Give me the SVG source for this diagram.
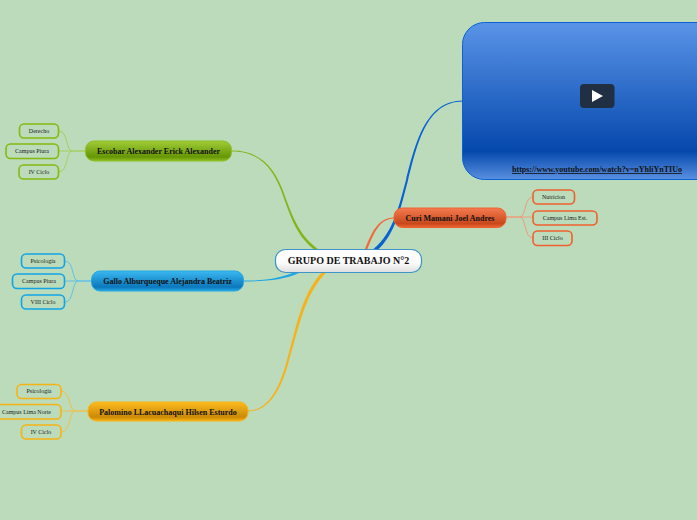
<svg xmlns="http://www.w3.org/2000/svg" width="697" height="520" viewBox="0 0 697 520">
<style>
text{font-family:"Liberation Serif","Times New Roman",serif;text-anchor:middle;fill:#111}
.b{font-size:8px;font-weight:bold}
.s{font-size:6px;fill:#222}
.l{fill:#bbdbbb;stroke-width:1.6}
.c{fill:none;stroke-width:1.5}
.t{fill:none;stroke-width:1}
</style>
<defs>
<linearGradient id="gg" x1="0" y1="0" x2="0" y2="1"><stop offset="0" stop-color="#a0cc36"/><stop offset=".8" stop-color="#669606"/><stop offset="1" stop-color="#90c020"/></linearGradient>
<linearGradient id="gb" x1="0" y1="0" x2="0" y2="1"><stop offset="0" stop-color="#3ab8f0"/><stop offset=".8" stop-color="#0c78bc"/><stop offset="1" stop-color="#26a8e2"/></linearGradient>
<linearGradient id="gy" x1="0" y1="0" x2="0" y2="1"><stop offset="0" stop-color="#fcba20"/><stop offset=".8" stop-color="#cc8a06"/><stop offset="1" stop-color="#f8b414"/></linearGradient>
<linearGradient id="gr" x1="0" y1="0" x2="0" y2="1"><stop offset="0" stop-color="#f47c50"/><stop offset=".8" stop-color="#c8481c"/><stop offset="1" stop-color="#ee6636"/></linearGradient>
<linearGradient id="gw" x1="0" y1="0" x2="0" y2="1"><stop offset="0" stop-color="#ffffff"/><stop offset=".6" stop-color="#fafafa"/><stop offset="1" stop-color="#dedede"/></linearGradient>
<linearGradient id="gv" x1="0" y1="0" x2="0" y2="1"><stop offset="0" stop-color="#5a94e8"/><stop offset=".82" stop-color="#0548ac"/><stop offset="1" stop-color="#5a90e0"/></linearGradient>
</defs>
<rect width="697" height="520" fill="#bbdbbb"/>
<g id="connectors">
<path fill="#84b41c" d="M232 150.600C262 150.600 274.800 170 282.800 190C292.800 218 299.500 235.500 318.500 249.500L316 251C297 237 291 218.500 281.200 190.500C273 171 262 151.400 232 151.400Z"/>
<path fill="#1ea6e6" d="M244 280.600C265 280.600 283 278 297 271L299 273C284 280 265 281.400 244 281.400Z"/>
<path fill="#f5b21a" d="M248 410.600C267.500 410.600 279 390 287 360C297 325 301 295 323 271L325.500 273C304 296 299.500 326 289 360.500C281 391 268.500 411.400 248 411.400Z"/>
<path fill="#f0683c" d="M365 249C371 235 377 217.600 394 217.600V218.400C379 218.400 373 235 367 250Z"/>
<path fill="#0a62d2" d="M373.500 249C394 232 399 205 406 180C415 145 425 100.600 463 100.600V101.400C426 101.400 417 145 408 180.500C401 206 396 234 376.500 251Z"/>
<path class="c" stroke="#a6cf62" d="M85 151H72"/><path class="t" stroke="#a6cf62" d="M72 151C66 151 68 131 59 131M72 151H59M72 151C66 151 68 172 59 172"/>
<path class="c" stroke="#62c0e4" d="M91 281H78"/><path class="t" stroke="#62c0e4" d="M78 281C72 281 74 261 65 261M78 281H65M78 281C72 281 74 302 65 302"/>
<path class="c" stroke="#f0c04c" d="M88 411H75"/><path class="t" stroke="#f0c04c" d="M75 411C69 411 71 391 61 391M75 411H61M75 411C69 411 71 432 61 432"/>
<path class="c" stroke="#ec9c7c" d="M506 217H520"/><path class="t" stroke="#ec9c7c" d="M520 217C526 217 524 197 533 197M520 217H533M520 217C526 217 524 238 533 238"/>
</g>
<g id="root"><rect x="275.500" y="249.500" width="146" height="23" rx="10" fill="url(#gw)" stroke="#3e94c8" stroke-width="1.200"/><text x="348.500" y="264" font-size="10px" font-weight="bold">GRUPO DE TRABAJO N°2</text></g>
<g id="video"><rect x="462.500" y="22.500" width="260" height="157" rx="22" fill="url(#gv)" stroke="#0a62d2"/><rect x="580" y="84" width="34.500" height="24" rx="4" fill="#212f42"/><path d="M592 90L603 96L592 102Z" fill="#fff"/><text x="597" y="172" font-size="8px" font-weight="bold" text-decoration="underline" fill="#0c1c40">https://www.youtube.com/watch?v=nYhliYnTIUo</text></g>
<g id="n-escobar"><rect x="85.500" y="141" width="146" height="20" rx="8.500" fill="url(#gg)" stroke="#8dbe24"/><text class="b" x="158.500" y="154">Escobar Alexander Erick Alexander</text></g>
<g id="n-gallo"><rect x="91.500" y="271" width="152" height="20" rx="8.500" fill="url(#gb)" stroke="#24a8e4"/><text class="b" x="167.500" y="284">Gallo Alburqueque Alejandra Beatriz</text></g>
<g id="n-palomino"><rect x="88" y="402" width="160" height="19" rx="8.500" fill="url(#gy)" stroke="#f6b412"/><text class="b" x="168" y="414.500">Palomino LLacuachaqui Hilsen Esturdo</text></g>
<g id="n-curi"><rect x="394" y="208" width="112" height="19.500" rx="8.500" fill="url(#gr)" stroke="#f0602e"/><text class="b" x="450" y="220.500">Curi Mamani Joel Andres</text></g>
<g id="e1"><rect class="l" stroke="#85b911" x="19.500" y="124" width="39" height="14" rx="4.500"/><text class="s" x="39" y="133">Derecho</text></g>
<g id="e2"><rect class="l" stroke="#85b911" x="6" y="144" width="52.500" height="14.500" rx="4.500"/><text class="s" x="32" y="153">Campus Piura</text></g>
<g id="e3"><rect class="l" stroke="#85b911" x="19" y="165" width="39.500" height="14" rx="4.500"/><text class="s" x="39" y="174">IV Ciclo</text></g>
<g id="g1"><rect class="l" stroke="#12a5e6" x="21.500" y="254" width="43" height="14" rx="4.500"/><text class="s" x="43" y="263">Psicología</text></g>
<g id="g2"><rect class="l" stroke="#12a5e6" x="12.500" y="274" width="52" height="14.500" rx="4.500"/><text class="s" x="39" y="283">Campus Piura</text></g>
<g id="g3"><rect class="l" stroke="#12a5e6" x="21.500" y="295" width="43" height="14" rx="4.500"/><text class="s" x="43" y="304">VIII Ciclo</text></g>
<g id="p1"><rect class="l" stroke="#f6b412" x="17" y="384.500" width="44" height="14" rx="4.500"/><text class="s" x="39" y="393">Psicología</text></g>
<g id="p2"><rect class="l" stroke="#f6b412" x="-8" y="404.500" width="69" height="14.500" rx="4.500"/><text class="s" x="26.500" y="414">Campus Lima Norte</text></g>
<g id="p3"><rect class="l" stroke="#f6b412" x="21.500" y="425" width="39.500" height="14" rx="4.500"/><text class="s" x="41" y="434">IV Ciclo</text></g>
<g id="c1"><rect class="l" stroke="#f0602e" x="533" y="190" width="41.500" height="14" rx="4.500"/><text class="s" x="553.500" y="199">Nutricion</text></g>
<g id="c2"><rect class="l" stroke="#f0602e" x="533" y="211" width="64" height="14" rx="4.500"/><text class="s" x="565" y="220">Campus Lima Est.</text></g>
<g id="c3"><rect class="l" stroke="#f0602e" x="533" y="231" width="39" height="14.500" rx="4.500"/><text class="s" x="552.500" y="240">III Ciclo</text></g>
</svg>
